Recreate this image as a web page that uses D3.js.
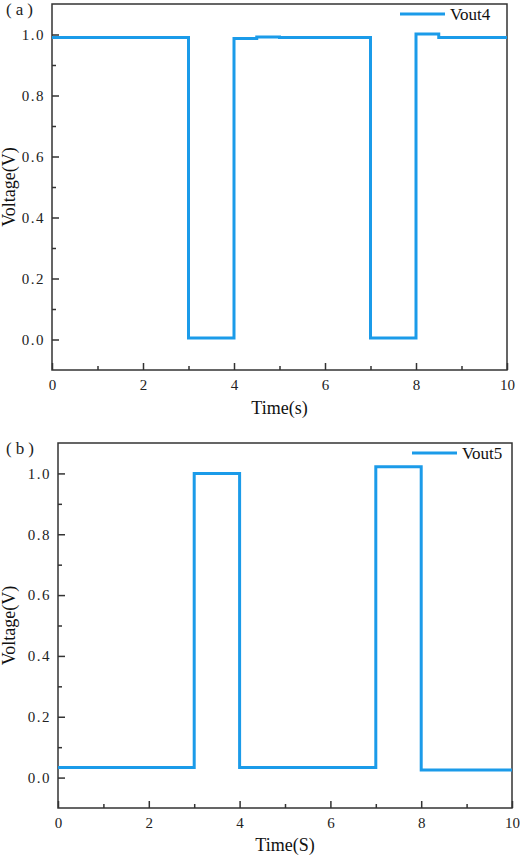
<!DOCTYPE html>
<html><head><meta charset="utf-8">
<script src="https://cdn.jsdelivr.net/npm/d3@7"></script>
<style>body{margin:0;background:#fff}svg{display:block}</style>
</head><body>
<svg id="c" width="520" height="855"></svg>
<script>
// Panel (a) step data: [time, voltage] pairs (step-after)
const timeA = [0, 3, 4, 4.5, 5, 7, 8, 8.5, 10];
const vout4 = [0.99, 0.005, 0.987, 0.992, 0.99, 0.005, 1.002, 0.99, 0.99];
// Panel (b)
const timeB = [0, 3, 4, 7, 8, 10];
const vout5 = [0.033, 1.0, 0.033, 1.022, 0.025, 0.025];

const xTicks = [0, 2, 4, 6, 8, 10];
const yTicks = [0.0, 0.2, 0.4, 0.6, 0.8, 1.0];
const xDomain = [0, 10];
const yDomain = [-0.1, 1.1];

const panels = [
  {tag: "(a)", name: "Vout4", xlabel: "Time(s)", t: timeA, v: vout4,
   l: 52, r: 507, top: 4, bot: 370, tagY: 15, legX: 400, legY: 14, xlabY: 414},
  {tag: "(b)", name: "Vout5", xlabel: "Time(S)", t: timeB, v: vout5,
   l: 58, r: 512, top: 443, bot: 808, tagY: 454, legX: 412, legY: 453, xlabY: 851}
];

const svg = d3.select("#c");
const blue = "#1b9be9";
const axisCol = "#333";
const serif = "'Liberation Serif', 'Times New Roman', 'DejaVu Serif', serif";

panels.forEach(p => {
  const x = d3.scaleLinear().domain(xDomain).range([p.l, p.r]);
  const y = d3.scaleLinear().domain(yDomain).range([p.bot, p.top]);
  const g = svg.append("g");

  // frame
  g.append("rect").attr("x", p.l).attr("y", p.top).attr("width", p.r - p.l).attr("height", p.bot - p.top)
    .attr("fill", "none").attr("stroke", axisCol).attr("stroke-width", 1.5);

  // x axis
  const xa = g.append("g").attr("class", "xax").attr("transform", `translate(0,${p.bot})`)
    .call(d3.axisBottom(x).tickValues(xTicks).tickFormat(d3.format("d")).tickSize(-7).tickPadding(9));
  xa.select(".domain").remove();
  const xm = g.append("g").attr("transform", `translate(0,${p.bot})`)
    .call(d3.axisBottom(x).tickValues([1, 3, 5, 7, 9]).tickFormat("").tickSize(-4));
  xm.select(".domain").remove();

  // y axis
  const ya = g.append("g").attr("class", "yax").attr("transform", `translate(${p.l},0)`)
    .call(d3.axisLeft(y).tickValues(yTicks).tickFormat(d3.format(".1f")).tickSize(-7).tickPadding(7));
  ya.select(".domain").remove();
  const ym = g.append("g").attr("transform", `translate(${p.l},0)`)
    .call(d3.axisLeft(y).tickValues([0.1, 0.3, 0.5, 0.7, 0.9]).tickFormat("").tickSize(-4));
  ym.select(".domain").remove();

  g.selectAll(".tick line").attr("stroke", axisCol).attr("stroke-width", 1.5);
  g.selectAll(".tick text").attr("fill", "#222")
    .style("font-family", serif).style("font-size", "15px");
  ya.selectAll(".tick text").style("letter-spacing", "1.5px");

  // series
  const pts = p.t.map((t, i) => [t, p.v[i]]);
  const line = d3.line().x(d => x(d[0])).y(d => y(d[1])).curve(d3.curveStepAfter);
  g.append("path").datum(pts).attr("d", line).attr("fill", "none")
    .attr("stroke", blue).attr("stroke-width", 3).attr("stroke-linejoin", "miter");

  // legend
  g.append("line").attr("x1", p.legX).attr("x2", p.legX + 45).attr("y1", p.legY).attr("y2", p.legY)
    .attr("stroke", blue).attr("stroke-width", 3);
  g.append("text").attr("x", p.legX + 50).attr("y", p.legY + 6).text(p.name)
    .style("font-family", serif).style("font-size", "17px").attr("fill", "#111");

  // tag
  g.append("text").attr("x", 6).attr("y", p.tagY).text(p.tag)
    .style("font-family", serif).style("font-size", "17px").style("letter-spacing", "4px").attr("fill", "#222");

  // axis labels
  g.append("text").attr("x", (p.l + p.r) / 2).attr("y", p.xlabY).attr("text-anchor", "middle").text(p.xlabel)
    .style("font-family", serif).style("font-size", "18px").attr("fill", "#111");
  g.append("text").attr("transform", `translate(15,${(p.top + p.bot) / 2}) rotate(-90)`)
    .attr("text-anchor", "middle").text("Voltage(V)")
    .style("font-family", serif).style("font-size", "18px").attr("fill", "#111");
});
</script>
</body></html>
